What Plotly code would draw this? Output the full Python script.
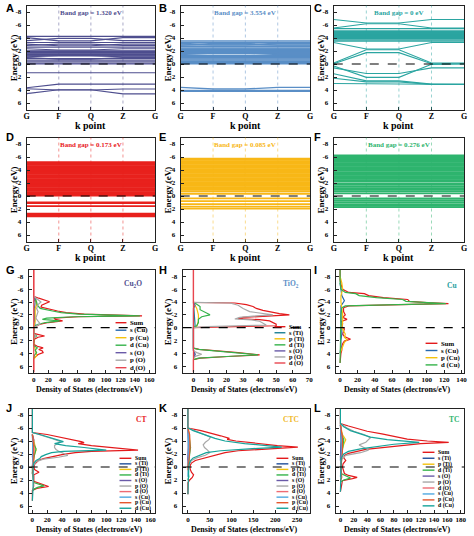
import plotly.graph_objects as go

W, H = 474, 536
SERIF = "Liberation Serif"
SANS = "Liberation Sans"

# ---------------- band structure data: energies (eV) at G, F, Q, Z, G ----------------
K_POS = [0, 1, 2, 3, 4]
K_LABELS = ["G", "F", "Q", "Z", "G"]
E_TICKS = [-8, -6, -4, -2, 0, 2, 4, 6]

A_flat = [-4.25, -3.3, -2.6, -2.05, -1.95, -1.85, -1.75, -1.65, -1.55, -1.45, -1.35, -1.25,
          -0.85, -0.6, -0.35, -0.15, -0.02, 1.35]
A_disp = [[-4.05, -3.55, -3.55, -4.05, -4.05], [-3.6, -3.95, -3.95, -3.6, -3.6],
          [-3.05, -2.8, -2.8, -3.05, -3.05], [-2.85, -3.05, -3.05, -2.85, -2.85],
          [-2.35, -2.15, -2.15, -2.35, -2.35], [-1.1, -1.3, -1.3, -1.1, -1.1],
          [-1.0, -0.75, -0.75, -1.0, -1.0], [3.65, 3.1, 3.1, 3.1, 3.1],
          [4.55, 3.95, 3.95, 4.6, 4.6], [3.8, 4.0, 4.0, 3.85, 3.85]]

B_flat = [-3.55, -3.35, -2.95, -2.75, -2.65, -2.45, -2.3, -2.2, -2.1, -1.95, -1.85, -1.75, -1.6,
          -1.3, -1.2, -1.1, -1.0, -0.9, -0.75, -0.6, -0.45, -0.35, -0.25, -0.15, -0.05, 4.2]
B_disp = [[-3.2, -2.95, -2.95, -3.2, -3.2], [-2.9, -3.15, -3.15, -2.9, -2.9],
          [-1.45, -1.7, -1.7, -1.45, -1.45], [3.6, 3.85, 3.85, 3.6, 3.6],
          [4.05, 4.1, 4.1, 4.05, 4.05]]

C_flat = [-5.45, -5.2, -5.0, -4.85, -4.7, -4.55, -4.4, -4.25, -4.1, -3.95, -3.8, -3.65, -3.5]
C_disp = [[-6.85, -6.3, -6.3, -6.85, -6.85], [-5.55, -6.2, -6.2, -5.55, -5.55],
          [-3.3, -2.3, -2.3, -3.3, -3.3], [-0.05, -1.75, -1.75, -0.05, -0.05],
          [-0.15, -2.2, -2.2, -0.15, -0.15], [0.6, 1.45, 1.45, 0.6, 0.6],
          [0.3, 2.05, 2.05, 0.05, 0.0], [1.5, 2.6, 2.6, 3.1, 3.1],
          [2.2, 2.75, 2.75, 3.15, 3.15], [3.0, 3.05, 3.05, 3.15, 3.15]]

D_flat = [-5.2, -5.0, -4.8, -4.6, -4.4, -4.2, -4.0, -3.8, -3.6, -3.4, -3.2, -3.0, -2.8, -2.6,
          -2.4, -2.2, -2.0, -1.8, -1.6, -1.4, -1.2, -1.0, -0.8, -0.6, -0.4, -0.2, -0.05,
          1.0, 1.1, 1.55, 2.7, 2.85, 3.0, 3.15]
D_disp = []

E_flat = [-5.75, -5.55, -5.35, -5.15, -4.95, -4.75, -4.55, -4.35, -4.15, -3.95, -3.75, -3.55,
          -3.35, -3.15, -2.95, -2.75, -2.55, -2.35, -2.15, -1.95, -1.75, -1.55, -1.35, -1.15,
          -0.95, -0.7, -0.35, 0.35, 0.8, 1.25, 1.65, 1.95]
E_disp = []

F_flat = [-6.25, -6.05, -5.85, -5.65, -5.45, -5.25, -5.05, -4.85, -4.65, -4.45, -4.25, -4.05,
          -3.85, -3.65, -3.45, -3.25, -3.05, -2.85, -2.65, -2.45, -2.25, -1.95, -1.7, -1.45,
          -1.2, -0.95, -0.7, -0.4, 0.35, 0.65, 0.95, 1.25, 1.5, 1.7]
F_disp = []

BAND_GAPS = ["Band gap = 1.320 eV", "Band gap = 3.554 eV", "Band gap = 0 eV",
             "Band gap = 0.173 eV", "Band gap = 0.085 eV", "Band gap = 0.276 eV"]
BAND_COLORS = ["#4E4E8E", "#5A8EC6", "#2BA5A1", "#E8211D", "#F8B716", "#2EB46E"]
BAND_WIDTHS = [1.1, 1.4, 1.1, 1.8, 1.8, 1.8]
BAND_SETS = [(A_flat, A_disp), (B_flat, B_disp), (C_flat, C_disp),
             (D_flat, D_disp), (E_flat, E_disp), (F_flat, F_disp)]

# ---------------- density of states data (energy eV, DOS electrons/eV) ----------------
G_E_sum = [-9, -4.9, -4.6, -4.3, -4.05, -3.8, -3.5, -3.2, -2.9, -2.6, -2.35, -2.1, -1.85, -1.7,
           -1.5, -1.3, -1.05, -0.8, -0.5, -0.25, 0.0, 0.9, 1.1, 1.3, 1.5, 1.8, 2.6, 2.9, 3.15,
           3.4, 3.65, 3.9, 4.2, 4.5, 4.8, 7]
G_sum = [0, 0, 7, 15, 22, 17, 11, 10, 20, 33, 45, 70, 150, 62, 28, 30, 40, 20, 8, 3, 0, 0, 6,
         15, 6, 1, 0, 5, 13, 7, 12, 13, 6, 3, 0, 0]
G_E_scu = [-4.9, -4.4, -4.0, -3.0, -1.0, -0.3, 0.0, 1.0, 1.3, 1.6]
G_scu = [0, 3, 2, 1, 1, 2, 0, 0, 2, 0]
G_E_pcu = [-4.9, -4.2, -3.6, -3.0, -2.0, -1.0, 0.0, 2.7, 3.3, 3.8, 4.4, 4.9]
G_pcu = [0, 3, 4, 2, 2, 2, 0, 0, 2, 3, 4, 0]
G_E_dcu = [-4.9, -4.5, -4.0, -3.5, -3.0, -2.6, -2.35, -2.1, -1.85, -1.7, -1.5, -1.3, -1.05,
           -0.8, -0.5, -0.2, 0.0, 1.0, 1.3, 1.6, 2.8, 3.15, 3.5, 3.9, 4.3, 4.8]
G_dcu = [0, 2, 4, 5, 9, 26, 38, 62, 147, 55, 18, 12, 36, 16, 5, 1, 0, 0, 4, 0, 0, 5, 2, 4, 1, 0]
G_E_so = [-4.9, -4.4, -4.0]
G_so = [0, 1.5, 0]
G_E_po = [-4.9, -4.4, -4.0, -3.6, -3.0, -2.5, -2.0, -1.5, -1.0, -0.6, -0.2, 0.0, 1.0, 1.3, 1.6]
G_po = [0, 6, 10, 6, 4, 6, 5, 3, 6, 9, 3, 0, 0, 3, 0]
G_E_do = [-9, 7]
G_do = [0, 0]

H_E_sum = [-9, -3.95, -3.85, -3.6, -3.3, -3.0, -2.7, -2.4, -2.2, -2.0, -1.85, -1.6, -1.4, -1.25,
           -1.05, -0.8, -0.55, -0.3, -0.12, 0.0, 3.2, 3.4, 3.9, 4.25, 4.5, 4.75, 5.0, 7]
H_sum = [0, 0, 25, 32, 36, 38, 42, 47, 52, 58, 45, 30, 27, 40, 46, 48, 50, 50, 10, 0, 0, 3.5,
         27, 40, 21, 4, 0, 0]
H_E_sti = [-3.9, -2.0, -0.3, 0.0, 3.5, 4.2, 4.8]
H_sti = [0, 0.6, 1, 0, 0, 1, 0]
H_E_pti = [-3.9, -3.0, -2.0, -1.0, -0.2, 0.0]
H_pti = [0, 2, 3, 3, 2, 0]
H_E_dti = [-4.0, -3.7, -3.3, -2.8, -2.3, -2.0, -1.7, -1.3, -0.8, -0.3, 0.0, 3.2, 3.4, 3.9,
           4.25, 4.5, 4.75, 5.0]
H_dti = [0, 2, 4, 4, 8, 10, 5, 3, 3, 2, 0, 0, 3, 25, 39, 20, 3, 0]
H_E_so = [-3.9, -3.5, -3.0, 3.6, 4.2, 4.6]
H_so = [0, 1, 0, 0, 1, 0]
H_E_po = [-3.95, -3.85, -3.5, -3.0, -2.5, -2.2, -2.0, -1.85, -1.6, -1.35, -1.2, -1.0, -0.7,
          -0.4, -0.15, 0.0, 3.6, 3.9, 4.15, 4.4, 4.7]
H_po = [0, 22, 27, 30, 34, 44, 48, 38, 28, 25, 35, 40, 42, 44, 8, 0, 0, 2, 5, 2, 0]
H_E_do = [-9, 7]
H_do = [0, 0]

I_E_sum = [-9, -7.5, -6.8, -6.0, -5.5, -5.3, -5.0, -4.7, -4.4, -4.1, -3.9, -3.75, -3.6, -3.4,
           -3.1, -2.5, -2.0, -1.6, -1.3, -1.0, -0.6, -0.2, 0.2, 0.6, 1.0, 1.4, 1.8, 2.1, 2.5,
           3.0, 3.5, 4.0, 5.5]
I_sum = [0, 0, 1, 3, 10, 28, 33, 50, 78, 80, 100, 125, 70, 10, 4, 4, 6, 3, 8, 2, 3, 2, 5, 4,
         3, 5, 12, 5, 3, 2, 2, 1, 0]
I_E_scu = [-7.0, -6.0, -5.0, -4.2, -3.8, -3.4, -2.0, -1.0, 0.0, 1.0, 2.0, 3.0, 4.0]
I_scu = [0, 1, 2, 5, 3, 1, 1, 1, 2, 2, 1, 1, 0]
I_E_pcu = [-8.0, -7.0, -6.0, -5.5, -5.0, -4.0, -3.0, -2.0, -1.0, 0.0, 0.5, 1.0, 1.5, 1.9, 2.3,
           3.0, 3.5, 4.0]
I_pcu = [0, 2, 3, 2, 1, 1, 2, 3, 3, 2, 4, 6, 5, 8, 5, 3, 1, 0]
I_E_dcu = [-9, -7.0, -6.0, -5.5, -5.3, -5.0, -4.7, -4.4, -4.1, -3.9, -3.75, -3.6, -3.4, -3.1,
           -2.5, -2.0, -1.0, 0.0, 1.0, 2.0, 3.0, 4.0, 5.5]
I_dcu = [0, 0, 1, 6, 18, 22, 42, 72, 76, 96, 122, 66, 6, 2, 1, 1, 1, 0.5, 0.5, 0.5, 0.5, 0, 0]

J_E_sum = [-9, -5.3, -5.0, -4.6, -4.2, -3.9, -3.75, -3.6, -3.3, -3.0, -2.8, -2.6, -2.4, -2.2,
           -1.9, -1.6, -1.3, -1.0, -0.7, -0.4, 0.0, 0.4, 0.8, 1.2, 2.2, 2.5, 2.8, 3.0, 3.3, 3.6, 5.2]
J_sum = [0, 0, 20, 38, 55, 66, 70, 62, 80, 110, 130, 143, 80, 58, 40, 25, 15, 8, 5, 3, 2, 3, 9,
         2, 2, 10, 18, 22, 6, 0, 0]
J_E_sti = [-5.0, -3.0, -1.0, 0.0]
J_sti = [0, 1, 0.5, 0]
J_E_pti = [-5.0, -4.0, -3.2, -2.6, -2.0, -1.0, 0.0]
J_pti = [0, 2, 3, 5, 3, 1, 0]
J_E_dti = [-5.0, -3.5, -2.8, -2.0, -1.0, 0.0, 1.0, 2.4, 2.7, 2.9, 3.1, 3.4, 3.7]
J_dti = [0, 2, 5, 3, 1, 0, 0, 2, 10, 16, 8, 2, 0]
J_E_so = [-5.0, -4.2, -3.0, -1.5]
J_so = [0, 2, 1, 0]
J_E_po = [-5.3, -4.8, -4.3, -3.9, -3.6, -3.3, -3.0, -2.7, -2.4, -2.1, -1.8, -1.5, -1.2, -0.8,
          -0.4, 0.0]
J_po = [0, 15, 28, 38, 34, 30, 30, 32, 36, 42, 48, 35, 15, 5, 2, 0]
J_E_do = [-5.0, -3.5, -2.5, -1.0, 0.0, 2.9, 3.6]
J_do = [0, 2, 2, 1, 0, 2, 0]
J_E_scu = [-5.0, -3.0, -1.0, 0.0, 1.0]
J_scu = [0, 1, 1, 1, 0]
J_E_pcu = [-5.0, -3.0, -1.0, 0.0, 1.0]
J_pcu = [0, 2, 2, 1, 0]
J_E_dcu = [-9, -5.3, -5.0, -4.6, -4.2, -3.9, -3.6, -3.3, -3.0, -2.8, -2.6, -2.4, -2.2, -1.9,
           -1.6, -1.3, -1.0, -0.6, 0.0, 1.0, 2.0, 2.8, 3.2, 5.2]
J_dcu = [0, 0, 10, 22, 33, 42, 30, 45, 70, 90, 100, 42, 26, 18, 12, 10, 5, 2, 1, 1, 1, 2, 1, 0]

K_E_sum = [-9, -6.0, -5.6, -5.2, -4.8, -4.4, -4.25, -4.0, -3.6, -3.3, -3.05, -2.8, -2.5, -2.2,
           -1.8, -1.5, -1.0, -0.6, -0.2, 0.3, 0.8, 1.2, 1.6, 2.0, 2.4, 4.2]
K_sum = [0, 0, 30, 55, 75, 95, 90, 110, 160, 205, 252, 180, 115, 85, 62, 48, 17, 8, 5, 5, 8,
         13, 10, 4, 0, 0]
K_E_sti = [-6.0, -3.0, 0.0]
K_sti = [0, 1, 0]
K_E_pti = [-6.0, -5.0, -4.0, -3.0, -2.0, -1.0, 0.0]
K_pti = [0, 3, 4, 4, 3, 2, 0]
K_E_dti = [-6.0, -4.5, -3.0, -2.0, -1.0, 0.0, 1.0, 1.5, 2.0]
K_dti = [0, 3, 6, 4, 2, 1, 1, 2, 0]
K_E_so = [-6.0, -5.0, -3.0, -1.0]
K_so = [0, 2, 1, 0]
K_E_po = [-6.0, -5.5, -5.0, -4.6, -4.2, -3.8, -3.4, -3.0, -2.6, -2.2, -1.8, -1.4, -1.0, -0.5, 0.0]
K_po = [0, 20, 40, 52, 48, 40, 35, 38, 45, 50, 40, 20, 8, 3, 0]
K_E_do = [-6.0, -4.0, -2.0, 0.0]
K_do = [0, 3, 2, 0]
K_E_scu = [-6.0, -3.0, 0.0, 1.5]
K_scu = [0, 2, 1, 0]
K_E_pcu = [-6.0, -5.0, -3.0, -1.0, 0.5]
K_pcu = [0, 4, 5, 3, 0]
K_E_dcu = [-9, -6.0, -5.6, -5.2, -4.8, -4.4, -4.0, -3.6, -3.3, -3.05, -2.8, -2.5, -2.2, -1.8,
           -1.4, -1.0, -0.5, 0.0, 1.0, 2.0, 4.2]
K_dcu = [0, 0, 12, 28, 48, 62, 85, 130, 180, 215, 140, 75, 42, 25, 12, 6, 3, 2, 2, 1, 0]

L_E_sum = [-9, -6.7, -6.3, -5.9, -5.5, -5.1, -4.7, -4.3, -4.0, -3.8, -3.6, -3.3, -3.0, -2.7,
           -2.4, -2.1, -1.8, -1.4, -1.0, -0.5, 0.0, 0.5, 1.0, 1.3, 1.6, 1.8, 2.1, 3.8]
L_sum = [0, 0, 12, 25, 40, 62, 80, 100, 130, 162, 120, 90, 60, 38, 25, 12, 6, 5, 8, 4, 3, 4,
         6, 12, 25, 18, 3, 0]
L_E_sti = [-6.5, -4.0, -1.0]
L_sti = [0, 1, 0]
L_E_pti = [-6.5, -5.0, -4.2, -3.5, -2.5, -1.5]
L_pti = [0, 3, 8, 5, 2, 0]
L_E_dti = [-6.5, -5.0, -4.2, -3.5, -2.0, -1.0, 0.0, 1.0, 1.4, 1.7, 2.0, 2.3]
L_dti = [0, 2, 5, 4, 2, 1, 0, 1, 8, 15, 5, 0]
L_E_so = [-6.5, -5.0, -3.0, -1.5]
L_so = [0, 2, 1, 0]
L_E_po = [-6.7, -6.0, -5.5, -5.0, -4.5, -4.1, -3.8, -3.4, -3.0, -2.6, -2.2, -1.8, -1.2, 0.0]
L_po = [0, 10, 20, 35, 45, 40, 38, 28, 35, 42, 30, 8, 2, 0]
L_E_do = [-6.5, -4.0, -2.0, 0.0]
L_do = [0, 3, 2, 0]
L_E_scu = [-6.5, -3.5, 0.0, 1.5]
L_scu = [0, 2, 1, 0]
L_E_pcu = [-6.5, -4.5, -2.5, 0.0, 1.6, 2.2]
L_pcu = [0, 3, 3, 1, 2, 0]
L_E_dcu = [-9, -6.7, -6.2, -5.6, -5.1, -4.6, -4.2, -3.8, -3.5, -3.2, -2.8, -2.4, -2.0, -1.5,
           -1.0, 0.0, 1.0, 2.0, 3.8]
L_dcu = [0, 0, 5, 15, 30, 45, 70, 118, 80, 55, 30, 12, 5, 2, 1, 1, 1, 1, 0]

RED, YEL, GRN, PUR, GRY, PNK = "#E31A1C", "#F4C20D", "#35B34A", "#6A5AA8", "#A8A8A8", "#EE6B73"
BLU, TIB, LBL, ORG, TEA = "#2468B0", "#1F4E9A", "#4FA8E0", "#E4572E", "#16A39A"

DOS_SERIES = [
    [("Sum", G_E_sum, G_sum, RED), ("s (Cu)", G_E_scu, G_scu, BLU), ("p (Cu)", G_E_pcu, G_pcu, YEL),
     ("d (Cu)", G_E_dcu, G_dcu, GRN), ("s (O)", G_E_so, G_so, PUR), ("p (O)", G_E_po, G_po, GRY),
     ("d (O)", G_E_do, G_do, "#E8454F")],
    [("Sum", H_E_sum, H_sum, RED), ("s (Ti)", H_E_sti, H_sti, "#1B7F95"), ("p (Ti)", H_E_pti, H_pti, YEL),
     ("d (Ti)", H_E_dti, H_dti, GRN), ("s (O)", H_E_so, H_so, PUR), ("p (O)", H_E_po, H_po, GRY),
     ("d (O)", H_E_do, H_do, "#E8454F")],
    [("Sum", I_E_sum, I_sum, RED), ("s (Cu)", I_E_scu, I_scu, BLU), ("p (Cu)", I_E_pcu, I_pcu, YEL),
     ("d (Cu)", I_E_dcu, I_dcu, GRN)],
    [("Sum", J_E_sum, J_sum, RED), ("s (Ti)", J_E_sti, J_sti, TIB), ("p (Ti)", J_E_pti, J_pti, YEL),
     ("d (Ti)", J_E_dti, J_dti, GRN), ("s (O)", J_E_so, J_so, PUR), ("p (O)", J_E_po, J_po, GRY),
     ("d (O)", J_E_do, J_do, PNK), ("s (Cu)", J_E_scu, J_scu, LBL), ("p (Cu)", J_E_pcu, J_pcu, ORG),
     ("d (Cu)", J_E_dcu, J_dcu, TEA)],
    [("Sum", K_E_sum, K_sum, RED), ("s (Ti)", K_E_sti, K_sti, TIB), ("p (Ti)", K_E_pti, K_pti, YEL),
     ("d (Ti)", K_E_dti, K_dti, GRN), ("s (O)", K_E_so, K_so, PUR), ("p (O)", K_E_po, K_po, GRY),
     ("d (O)", K_E_do, K_do, PNK), ("s (Cu)", K_E_scu, K_scu, LBL), ("p (Cu)", K_E_pcu, K_pcu, ORG),
     ("d (Cu)", K_E_dcu, K_dcu, TEA)],
    [("Sum", L_E_sum, L_sum, RED), ("s (Ti)", L_E_sti, L_sti, TIB), ("p (Ti)", L_E_pti, L_pti, YEL),
     ("d (Ti)", L_E_dti, L_dti, GRN), ("s (O)", L_E_so, L_so, PUR), ("p (O)", L_E_po, L_po, GRY),
     ("d (O)", L_E_do, L_do, PNK), ("s (Cu)", L_E_scu, L_scu, LBL), ("p (Cu)", L_E_pcu, L_pcu, ORG),
     ("d (Cu)", L_E_dcu, L_dcu, TEA)],
]
DOS_NAMES = ["Cu<sub>2</sub>O", "TiO<sub>2</sub>", "Cu", "CT", "CTC", "TC"]
DOS_NAME_COLORS = ["#4E4E8E", "#5A8EC6", "#1FA0A0", "#E8211D", "#F0B81E", "#2EB46E"]
DOS_DTICK = [20, 10, 20, 20, 50, 20]
LETTERS = list("ABCDEFGHIJKL")

# ---------------- geometry (pixels) ----------------
COLS = [(24, 154), (180, 311), (335, 467)]
DOS_COLS = [(26, 154), (182, 311), (337, 467)]
ROWS = [(5.5, 109.5), (137.5, 241.5), (270, 372.5), (408.5, 512.5)]
DOS_XRANGE = [(-7, 168), (-6.5, 70.5), (-5, 143), (-5, 166), (-12, 280), (-7, 185)]
LEGEND_GEOM = [  # first y, step, line x0, line x1, text x, font size
    (322.7, 7.5, 114, 125, 127, 6.8), (326.7, 6.05, 275, 286, 288, 6.3),
    (343.3, 7.2, 428, 440, 442, 6.8), (458.3, 5.55, 118, 130, 132, 5.8),
    (458.3, 5.55, 277, 289, 291, 5.8), (452.3, 5.95, 425, 437, 439, 5.8)]
NAME_POS = [(132, 284), (292, 284), (455, 285), (140, 419), (292, 419), (457, 419)]
LETTER_POS = [(1, 0), (156, 0), (313, 0), (1, 129), (156, 129), (313, 129),
              (1, 262), (156, 262), (313, 262), (1, 400), (156, 400), (313, 400)]


def fx(x):
    return x / W


def fy(y):
    return 1 - y / H


fig = go.Figure()
shapes, annos = [], []
layout = {}

axis_common = dict(showline=True, linecolor="#222", linewidth=1, mirror=True, ticks="inside",
                   ticklen=3, tickwidth=1, tickcolor="#222", showgrid=False, zeroline=False,
                   tickfont=dict(family=SERIF, size=7, color="black", weight="bold"))

for i in range(12):
    row, col = divmod(i, 3)
    xn = "x" if i == 0 else f"x{i+1}"
    yn = "y" if i == 0 else f"y{i+1}"
    xk = "xaxis" if i == 0 else f"xaxis{i+1}"
    yk = "yaxis" if i == 0 else f"yaxis{i+1}"
    x0, x1 = COLS[col] if row < 2 else DOS_COLS[col]
    y0, y1 = ROWS[row]
    layout[yk] = dict(axis_common, domain=[fy(y1), fy(y0)], anchor=xn, range=[7, -9],
                      tickvals=E_TICKS, ticktext=[str(t) for t in E_TICKS], ticklabelstandoff=3)
    if row < 2:
        color = BAND_COLORS[i]
        flat, disp = BAND_SETS[i]
        xs, ys = [], []
        for e in flat:
            xs += [K_POS[0], K_POS[-1], None]
            ys += [e, e, None]
        for b in disp:
            xs += K_POS + [None]
            ys += b + [None]
        fig.add_trace(go.Scatter(x=xs, y=ys, mode="lines",
                                 line=dict(color=color, width=BAND_WIDTHS[i]),
                                 xaxis=xn, yaxis=yn, hoverinfo="skip"))
        layout[xk] = dict(axis_common, domain=[fx(x0), fx(x1)], anchor=yn, range=[0, 4],
                          tickvals=K_POS, ticktext=K_LABELS, ticklabelstandoff=-1)
        layout[xk]["tickfont"] = dict(family=SERIF, size=8, color="black", weight="bold")
        for kx in K_POS[1:-1]:
            shapes.append(dict(type="line", xref=xn, yref=f"{yn} domain", x0=kx, x1=kx, y0=0, y1=1,
                               line=dict(color=color, width=0.8, dash="dot"), opacity=0.6))
        shapes.append(dict(type="line", xref=f"{xn} domain", yref=yn, x0=0, x1=1, y0=0, y1=0,
                           line=dict(color="black", width=1.2, dash="dash")))
        annos.append(dict(text=BAND_GAPS[i], xref=xn, yref=yn, x=2, y=-7.9, showarrow=False,
                          xanchor="center",
                          font=dict(family=SERIF, size=7, color=color, weight="bold")))
        annos.append(dict(text="k point", xref="paper", yref="paper", x=fx((x0 + x1) / 2),
                          y=fy(y1 + 15.5), showarrow=False, xanchor="center", yanchor="middle",
                          font=dict(family=SERIF, size=10, color="black", weight="bold")))
    else:
        j = i - 6
        for (lab, ee, vv, c) in DOS_SERIES[j]:
            fig.add_trace(go.Scatter(x=vv, y=ee, mode="lines", line=dict(color=c, width=1.2),
                                     xaxis=xn, yaxis=yn, hoverinfo="skip"))
        layout[xk] = dict(axis_common, domain=[fx(x0), fx(x1)], anchor=yn, range=list(DOS_XRANGE[j]),
                          tick0=0, dtick=DOS_DTICK[j])
        shapes.append(dict(type="line", xref=f"{xn} domain", yref=yn, x0=0, x1=1, y0=0, y1=0,
                           line=dict(color="black", width=1.2, dash="dash")))
        annos.append(dict(text="Density of States (electrons/eV)", xref="paper", yref="paper",
                          x=fx((x0 + x1) / 2 - 2), y=fy(y1 + 17), showarrow=False,
                          xanchor="center", yanchor="middle",
                          font=dict(family=SERIF, size=8, color="black", weight="bold")))
        nx, ny = NAME_POS[j]
        annos.append(dict(text=DOS_NAMES[j], xref="paper", yref="paper", x=fx(nx), y=fy(ny),
                          showarrow=False, xanchor="center", yanchor="middle",
                          font=dict(family=SERIF, size=7.5, color=DOS_NAME_COLORS[j], weight="bold")))
        ly, step, lx0, lx1, tx, fs = LEGEND_GEOM[j]
        for k, (lab, ee, vv, c) in enumerate(DOS_SERIES[j]):
            yy = ly + k * step
            shapes.append(dict(type="line", xref="paper", yref="paper", x0=fx(lx0), x1=fx(lx1),
                               y0=fy(yy), y1=fy(yy), line=dict(color=c, width=1.4)))
            annos.append(dict(text=lab, xref="paper", yref="paper", x=fx(tx), y=fy(yy),
                              xanchor="left", yanchor="middle", showarrow=False,
                              font=dict(family=SERIF, size=fs, color="black", weight="bold")))
    annos.append(dict(text="Energy (eV)", xref="paper", yref="paper", x=fx(COLS[col][0] - 13),
                      y=fy((y0 + y1) / 2), textangle=-90, showarrow=False,
                      xanchor="center", yanchor="middle",
                      font=dict(family=SERIF, size=9, color="black", weight="bold")))
    lx, lyy = LETTER_POS[i]
    annos.append(dict(text=LETTERS[i], xref="paper", yref="paper", x=fx(lx), y=fy(lyy),
                      xanchor="left", yanchor="top", showarrow=False,
                      font=dict(family=SANS, size=11, color="black", weight="bold")))

fig.update_layout(width=W, height=H, margin=dict(l=0, r=0, t=0, b=0), showlegend=False,
                  plot_bgcolor="white", paper_bgcolor="white", shapes=shapes, annotations=annos,
                  **layout)
fig.write_html("out.html")
